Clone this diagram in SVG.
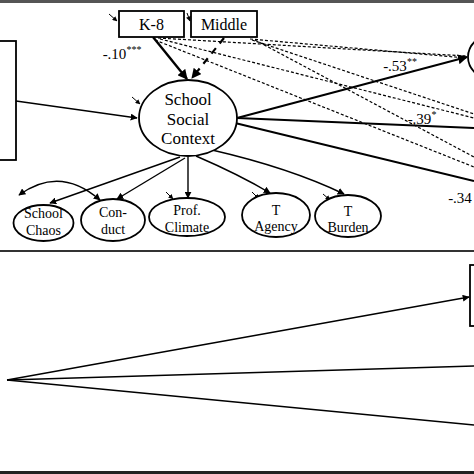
<svg xmlns="http://www.w3.org/2000/svg" width="474" height="474" viewBox="0 0 474 474">
<defs>
<marker id="ah" viewBox="0 0 10 10" refX="9" refY="5" markerWidth="7" markerHeight="7" markerUnits="userSpaceOnUse" orient="auto-start-reverse"><path d="M0,0 L10,5 L0,10 z" fill="#000"/></marker>
<marker id="ahs" viewBox="0 0 10 10" refX="9" refY="5" markerWidth="5" markerHeight="5" markerUnits="userSpaceOnUse" orient="auto"><path d="M0,0 L10,5 L0,10 z" fill="#000"/></marker>
<marker id="ahb" viewBox="0 0 10 10" refX="9" refY="5" markerWidth="10" markerHeight="10" markerUnits="userSpaceOnUse" orient="auto"><path d="M0,0 L10,5 L0,10 z" fill="#000"/></marker>
</defs>
<style>
.t{font-family:"Liberation Serif","Times New Roman",serif;fill:#000;text-anchor:middle}
.n{fill:#fff;stroke:#000;stroke-width:1.8}
.c{fill:none;stroke:#000;stroke-width:1.4}
.d{fill:none;stroke:#000;stroke-width:1.2;stroke-dasharray:3 2}
.e{fill:none;stroke:#000;stroke-width:1}
.sep{stroke:#333;stroke-width:2}
</style>
<rect width="474" height="474" fill="#fff"/>
<rect x="0" y="0" width="474" height="3" fill="#555"/>
<line class="sep" x1="0" y1="251" x2="474" y2="251"/>
<rect x="0" y="471" width="474" height="3" fill="#222"/>

<g id="connectors">
<line class="d" x1="158" y1="38" x2="466" y2="56"/>
<line class="d" x1="250" y1="39" x2="466" y2="58"/>
<line class="d" x1="160" y1="39" x2="474" y2="118"/>
<line class="d" x1="252" y1="40" x2="474" y2="114"/>
<line class="d" x1="155" y1="40" x2="474" y2="167"/>
<line class="d" x1="255" y1="40" x2="474" y2="157"/>
<line class="c" x1="16" y1="101" x2="137" y2="118" marker-end="url(#ah)"/>
<line x1="153" y1="37" x2="187" y2="79" stroke="#000" stroke-width="2.4" marker-end="url(#ahb)"/>
<line x1="224" y1="38" x2="192" y2="78" stroke="#000" stroke-width="2.2" stroke-dasharray="7 6" marker-end="url(#ahb)"/>
<line x1="237" y1="118" x2="467" y2="57" stroke="#000" stroke-width="2" marker-end="url(#ahb)"/>
<line x1="237" y1="118" x2="474" y2="128" stroke="#000" stroke-width="2"/>
<line x1="235" y1="123" x2="474" y2="181" stroke="#000" stroke-width="2"/>
<line class="c" x1="180" y1="157" x2="50" y2="203" marker-end="url(#ah)"/>
<line class="c" x1="185" y1="158" x2="117" y2="199" marker-end="url(#ah)"/>
<line class="c" x1="188" y1="157" x2="188" y2="198" marker-end="url(#ah)"/>
<path class="c" d="M196,156 Q240,175 270,193" marker-end="url(#ah)"/>
<path class="c" d="M212,150 Q290,168 344,194" marker-end="url(#ah)"/>
<path class="c" d="M19,195 Q60,165 100,200" marker-start="url(#ah)" marker-end="url(#ah)"/>
<line class="e" x1="109" y1="14" x2="117" y2="21" marker-end="url(#ahs)"/>
<line class="e" x1="187" y1="13" x2="190" y2="21" marker-end="url(#ahs)"/>
<line class="e" x1="132" y1="97" x2="140" y2="104" marker-end="url(#ahs)"/>
<line class="e" x1="166" y1="192" x2="173" y2="199" marker-end="url(#ahs)"/>
<line class="e" x1="252" y1="192" x2="259" y2="199" marker-end="url(#ahs)"/>
<line class="e" x1="323" y1="194" x2="330" y2="200" marker-end="url(#ahs)"/>
<line class="c" x1="7" y1="380" x2="469" y2="297" marker-end="url(#ah)"/>
<line class="c" x1="7" y1="380" x2="474" y2="366"/>
<line class="c" x1="7" y1="380" x2="474" y2="425"/>
</g>

<g id="left-box"><rect class="n" x="-10" y="41" width="26" height="119"/></g>
<g id="k8"><rect class="n" x="119" y="11" width="65" height="26"/><text class="t" x="151.5" y="30" font-size="16">K-8</text></g>
<g id="middle"><rect class="n" x="191" y="11" width="66" height="26"/><text class="t" x="224" y="30" font-size="16">Middle</text></g>
<g id="ssc"><ellipse class="n" cx="188" cy="118" rx="49" ry="38" stroke-width="2"/>
<text class="t" x="188" y="105" font-size="17">School</text>
<text class="t" x="188" y="125" font-size="17">Social</text>
<text class="t" x="188" y="144" font-size="17">Context</text></g>
<g id="right-ellipse"><ellipse class="n" cx="500" cy="57" rx="32" ry="25"/></g>
<g id="chaos"><ellipse class="n" cx="43.5" cy="223" rx="30" ry="18"/>
<text class="t" x="43.5" y="218" font-size="14">School</text>
<text class="t" x="43.5" y="235" font-size="14">Chaos</text></g>
<g id="conduct"><ellipse class="n" cx="113" cy="220" rx="32" ry="21"/>
<text class="t" x="113" y="217" font-size="14">Con-</text>
<text class="t" x="113" y="234" font-size="14">duct</text></g>
<g id="climate"><ellipse class="n" cx="187" cy="217" rx="38" ry="19"/>
<text class="t" x="187" y="215" font-size="14">Prof.</text>
<text class="t" x="187" y="232" font-size="14">Climate</text></g>
<g id="agency"><ellipse class="n" cx="276" cy="215" rx="34" ry="22"/>
<text class="t" x="276" y="215" font-size="14">T</text>
<text class="t" x="276" y="231" font-size="14">Agency</text></g>
<g id="burden"><ellipse class="n" cx="348" cy="216" rx="33" ry="21"/>
<text class="t" x="348" y="216" font-size="14">T</text>
<text class="t" x="348" y="232" font-size="14">Burden</text></g>
<g id="bottom-box"><rect class="n" x="470" y="265" width="20" height="61"/></g>

<g id="labels">
<text class="t" x="122" y="59" font-size="15">-.10<tspan font-size="10" dy="-6">***</tspan></text>
<text class="t" x="400" y="71" font-size="15">-.53<tspan font-size="10" dy="-6">**</tspan></text>
<text class="t" x="422" y="124" font-size="15">-.39<tspan font-size="10" dy="-6">*</tspan></text>
<text class="t" x="460" y="203" font-size="15">-.34</text>
</g>
</svg>
